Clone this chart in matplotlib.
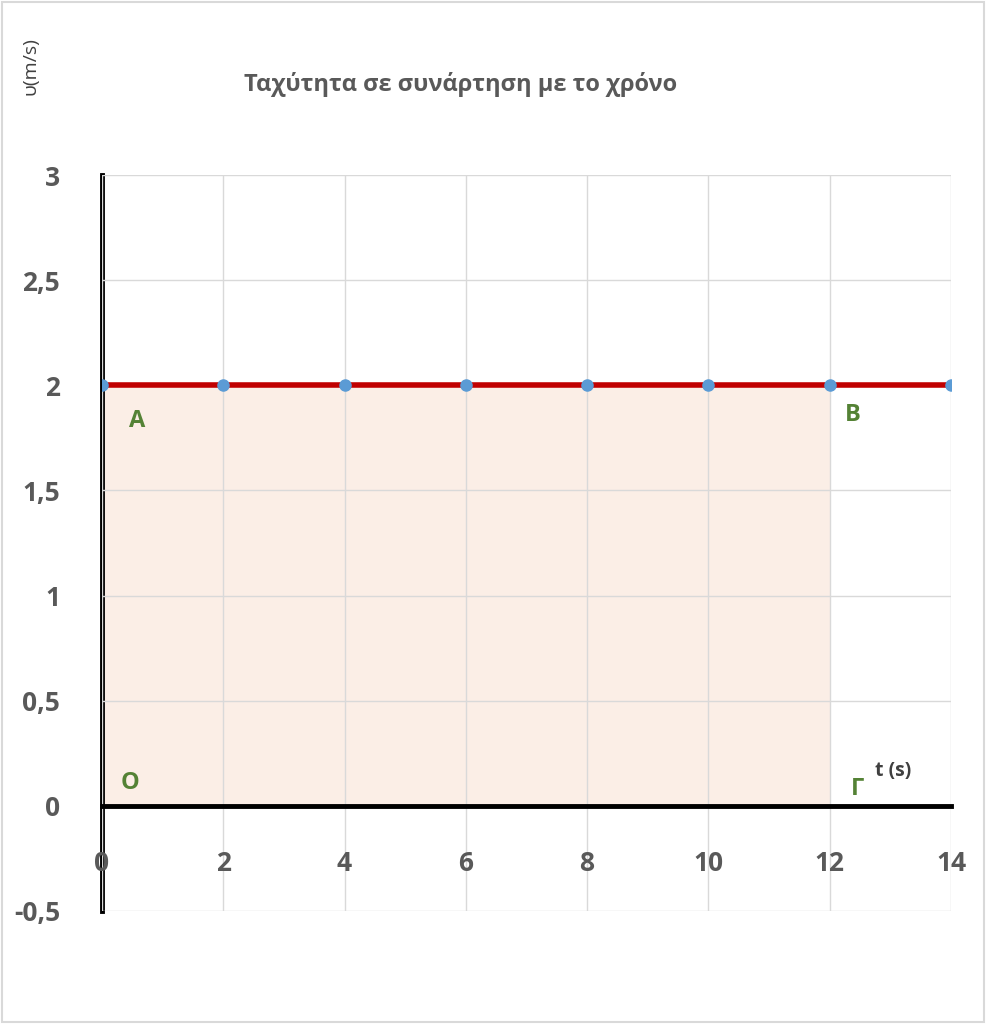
import matplotlib
matplotlib.use("Agg")
import matplotlib.pyplot as plt
from matplotlib.patches import Rectangle

t = [0, 2, 4, 6, 8, 10, 12, 14]
v = [2, 2, 2, 2, 2, 2, 2, 2]
xticks = [0, 2, 4, 6, 8, 10, 12, 14]
yticks = [-0.5, 0, 0.5, 1, 1.5, 2, 2.5, 3]
ylabels = ["-0,5", "0", "0,5", "1", "1,5", "2", "2,5", "3"]
area_t_end = 12

plt.rcParams['font.family'] = ['Open Sans', 'DejaVu Sans']
fig = plt.figure(figsize=(9.86, 10.24), dpi=100)
fig.patches.append(Rectangle((0.002, 0.002), 0.996, 0.996, transform=fig.transFigure,
                             fill=False, edgecolor='#D9D9D9', lw=1.5))
ax = fig.add_axes([0.1034, 0.1104, 0.8611, 0.7187])
ax.set_xlim(0, 14)
ax.set_ylim(-0.5, 3)
ax.set_xticks(xticks)
ax.set_yticks(yticks)
ax.grid(True, color='#D9D9D9', lw=1)
ax.set_axisbelow(False)
for s in ['top', 'right']:
    ax.spines[s].set_visible(False)
ax.spines['left'].set_linewidth(3.5)
ax.spines['left'].set_color('black')
ax.spines['bottom'].set_position(('data', 0))
ax.spines['bottom'].set_linewidth(3.5)
ax.spines['bottom'].set_color('black')
ax.spines['bottom'].set_zorder(3)
ax.add_patch(Rectangle((0, 0), area_t_end, v[0], facecolor='#FBEEE6', edgecolor='none', zorder=1))
ax.plot(t, v, color='#C00000', lw=4, zorder=4)
ax.plot(t, v, 'o', color='#5B9BD5', ms=8, zorder=5)

ax.set_xticklabels([str(x) for x in xticks], fontsize=19, fontweight='bold', color='#595959')
ax.set_yticklabels(ylabels, fontsize=19, fontweight='bold', color='#595959')
ax.tick_params(length=0)
ax.tick_params(axis='y', pad=30)
ax.tick_params(axis='x', pad=32)

green = '#548235'
ax.text(0.45, 1.8, 'A', fontsize=17, fontweight='bold', color=green)
ax.text(12.25, 1.83, 'B', fontsize=17, fontweight='bold', color=green)
ax.text(0.3, 0.08, 'O', fontsize=17, fontweight='bold', color=green)
ax.text(12.35, 0.05, 'Γ', fontsize=17, fontweight='bold', color=green)
ax.text(12.75, 0.14, 't (s)', fontsize=14, fontweight='bold', color='#404040')

fig.text(0.467, 0.917, 'Ταχύτητα σε συνάρτηση με το χρόνο', fontsize=17, fontweight='bold',
         color='#595959', ha='center', va='center')
fig.text(0.031, 0.935, 'υ(m/s)', fontsize=14, color='#404040', rotation=90, ha='center', va='center')

fig.savefig('out.png', dpi=100)
